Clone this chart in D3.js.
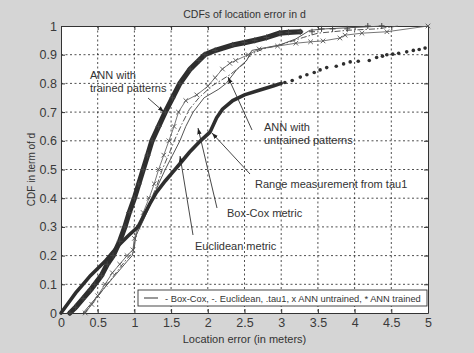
<!DOCTYPE html>
<html><head><meta charset="utf-8">
<script src="https://cdn.jsdelivr.net/npm/d3@7"></script>
<style>
html,body{margin:0;padding:0;background:#d5d5d5;}
svg{display:block;font-family:"Liberation Sans",Arial,sans-serif;}
</style></head>
<body><svg id="c" width="474" height="353"></svg>
<script>
const xTicks = [0,0.5,1,1.5,2,2.5,3,3.5,4,4.5,5];
const yTicks = [0,0.1,0.2,0.3,0.4,0.5,0.6,0.7,0.8,0.9,1];

// Range measurement from tau1 (dense part, drawn as thick dotted band)
const tau1 = [[0,0],[0.1,0.035],[0.2,0.07],[0.3,0.1],[0.4,0.13],[0.5,0.155],[0.6,0.18],[0.7,0.21],[0.8,0.24],[0.92,0.27],[1.05,0.3],[1.15,0.35],[1.21,0.38],[1.3,0.42],[1.42,0.46],[1.52,0.49],[1.62,0.52],[1.75,0.56],[1.9,0.6],[2.03,0.63],[2.12,0.68],[2.2,0.71],[2.34,0.74],[2.5,0.76],[2.71,0.777],[2.9,0.792],[3.0,0.8]];
// tau1 sparse tail dots
const tau1Tail = [[3.05,0.803],[3.15,0.81],[3.26,0.822],[3.35,0.83],[3.45,0.838],[3.53,0.847],[3.62,0.855],[3.75,0.86],[3.85,0.868],[3.94,0.875],[4.05,0.877],[4.2,0.88],[4.3,0.89],[4.38,0.895],[4.44,0.9],[4.52,0.902],[4.6,0.905],[4.71,0.91],[4.8,0.915],[4.88,0.918],[4.96,0.923]];
// ANN trained (dense band)
const annTrained = [[0.12,0],[0.2,0.02],[0.3,0.05],[0.4,0.08],[0.46,0.1],[0.55,0.13],[0.63,0.17],[0.71,0.2],[0.8,0.25],[0.87,0.3],[0.93,0.35],[1.0,0.4],[1.06,0.45],[1.12,0.5],[1.18,0.55],[1.24,0.6],[1.33,0.65],[1.42,0.7],[1.52,0.75],[1.62,0.8],[1.76,0.85],[1.88,0.88],[1.96,0.9],[2.1,0.915],[2.34,0.934],[2.5,0.942],[2.64,0.95],[2.8,0.96],[2.98,0.975],[3.1,0.978],[3.26,0.98]];
const annTrainedTail = [[3.42,0.98],[3.55,0.99],[3.7,0.99],[3.9,0.99],[4.18,1.0],[4.37,1.0]];
// ANN untrained
const annUntrained = [[0.33,0],[0.42,0.03],[0.5,0.06],[0.6,0.1],[0.7,0.14],[0.8,0.17],[0.9,0.2],[0.98,0.22],[1.0,0.26],[1.05,0.3],[1.12,0.35],[1.2,0.4],[1.27,0.45],[1.33,0.5],[1.4,0.55],[1.47,0.6],[1.54,0.65],[1.6,0.7],[1.7,0.74],[1.85,0.76],[2.0,0.79],[2.1,0.82],[2.2,0.85],[2.3,0.87],[2.38,0.88],[2.55,0.9],[2.7,0.92],[2.95,0.93],[3.2,0.94],[3.4,0.945],[3.57,0.948],[3.8,0.958],[3.87,0.968],[4.1,0.975],[4.44,0.98],[5.0,1.0]];
// Box-Cox metric
const boxCox = [[0.3,0],[0.4,0.03],[0.5,0.06],[0.6,0.09],[0.7,0.12],[0.8,0.15],[0.9,0.18],[0.97,0.2],[1.0,0.23],[1.02,0.27],[1.08,0.3],[1.17,0.35],[1.25,0.4],[1.33,0.45],[1.42,0.5],[1.52,0.55],[1.62,0.6],[1.7,0.65],[1.8,0.7],[1.95,0.75],[2.15,0.78],[2.25,0.8],[2.4,0.85],[2.53,0.88],[2.6,0.915],[2.8,0.925],[2.98,0.934],[3.2,0.955],[3.39,0.985],[3.6,0.99],[4.0,0.995],[4.4,1.0]];
// Euclidean metric
const euclid = [[0.32,0],[0.45,0.04],[0.6,0.09],[0.75,0.14],[0.9,0.19],[0.98,0.21],[1.0,0.25],[1.05,0.29],[1.12,0.33],[1.2,0.38],[1.3,0.44],[1.38,0.5],[1.48,0.56],[1.56,0.61],[1.65,0.66],[1.75,0.71],[1.88,0.75],[2.05,0.79],[2.3,0.83],[2.5,0.87],[2.58,0.9],[2.75,0.92],[3.0,0.935],[3.3,0.96],[3.5,0.975],[3.9,0.985],[4.3,0.99],[4.6,1.0]];

const legendText = "- Box-Cox, -. Euclidean, .tau1, x ANN untrained, * ANN trained";
const annotations = [
  {lines:["ANN with","trained patterns"], tx:90, ty:79, from:[148,98], to:[164,112]},
  {lines:["ANN with","untrained patterns"], tx:264, ty:131, from:[252,130], to:[228,77]},
  {lines:["Range measurement from tau1"], tx:255, ty:188, from:[250,174], to:[212,133]},
  {lines:["Box-Cox metric"], tx:227, ty:217, from:[217,208], to:[198,128]},
  {lines:["Euclidean metric"], tx:195, ty:250, from:[193,235], to:[180,156]}
];

const svg = d3.select("#c");
const L=61, R=428, T=26, B=313;
const x = d3.scaleLinear().domain([0,5]).range([L,R]);
const y = d3.scaleLinear().domain([0,1]).range([B,T]);
const ink = "#2e2e2e";

svg.append("rect").attr("x",L).attr("y",T).attr("width",R-L).attr("height",B-T).attr("fill","#fff");

// grid
const g = svg.append("g");
xTicks.slice(1,-1).forEach(t=>g.append("line").attr("x1",x(t)).attr("x2",x(t)).attr("y1",T).attr("y2",B)
  .attr("stroke","#222").attr("stroke-width",0.8).attr("stroke-dasharray","2,2.5"));
yTicks.slice(1,-1).forEach(t=>g.append("line").attr("y1",y(t)).attr("y2",y(t)).attr("x1",L).attr("x2",R)
  .attr("stroke","#222").attr("stroke-width",0.8).attr("stroke-dasharray","2,2.5"));

// axes
const xa = svg.append("g").attr("transform",`translate(0,${B})`).call(d3.axisBottom(x).tickValues(xTicks).tickSizeInner(-4).tickSizeOuter(0).tickPadding(5).tickFormat(d3.format("")));
const ya = svg.append("g").attr("transform",`translate(${L},0)`).call(d3.axisLeft(y).tickValues(yTicks).tickSizeInner(-4).tickSizeOuter(0).tickPadding(4).tickFormat(d3.format("")));
svg.append("g").attr("transform",`translate(0,${T})`).call(d3.axisTop(x).tickValues(xTicks).tickSizeInner(-4).tickSizeOuter(0).tickFormat(""));
svg.append("g").attr("transform",`translate(${R},0)`).call(d3.axisRight(y).tickValues(yTicks).tickSizeInner(-4).tickSizeOuter(0).tickFormat(""));
svg.selectAll(".domain").attr("stroke","#333");
svg.selectAll(".tick line").attr("stroke","#333");
[xa,ya].forEach(a=>a.selectAll("text").attr("font-size",12.5).attr("fill","#3a3a3a").attr("font-family","Liberation Sans, Arial, sans-serif"));

const line = d3.line().x(d=>x(d[0])).y(d=>y(d[1]));
const plot = svg.append("g");

// Euclidean dash-dot
plot.append("path").attr("d",line(euclid)).attr("fill","none").attr("stroke","#555").attr("stroke-width",1).attr("stroke-dasharray","6,2,1.5,2");
// Box-Cox solid
plot.append("path").attr("d",line(boxCox)).attr("fill","none").attr("stroke","#555").attr("stroke-width",1);
// ANN untrained with x markers
plot.append("path").attr("d",line(annUntrained)).attr("fill","none").attr("stroke","#666").attr("stroke-width",0.9);
plot.selectAll(".xm").data(annUntrained).enter().append("path")
  .attr("d",d=>{const cx=x(d[0]),cy=y(d[1]),s=2.3;return `M${cx-s},${cy-s}L${cx+s},${cy+s}M${cx-s},${cy+s}L${cx+s},${cy-s}`;})
  .attr("stroke","#555").attr("stroke-width",0.9);
// tau1 thick dotted band
plot.append("path").attr("d",line(tau1)).attr("fill","none").attr("stroke",ink).attr("stroke-width",3.6).attr("stroke-linecap","round");
plot.selectAll(".td").data(tau1Tail).enter().append("circle")
  .attr("cx",d=>x(d[0])).attr("cy",d=>y(d[1])).attr("r",1.8).attr("fill",ink);
// ANN trained thick band
plot.append("path").attr("d",line(annTrained)).attr("fill","none").attr("stroke",ink).attr("stroke-width",5.2).attr("stroke-linecap","round");
plot.selectAll(".pm").data(annTrained.concat(annTrainedTail)).enter().append("path")
  .attr("d",d=>{const cx=x(d[0]),cy=y(d[1]),s=3;return `M${cx-s},${cy}L${cx+s},${cy}M${cx},${cy-s}L${cx},${cy+s}`;})
  .attr("stroke","#444").attr("stroke-width",1);

// annotations
svg.append("defs").append("marker").attr("id","ah").attr("viewBox","0 0 10 10").attr("refX",10).attr("refY",5)
  .attr("markerWidth",7).attr("markerHeight",7).attr("orient","auto")
  .append("path").attr("d","M0,1.5L10,5L0,8.5Z").attr("fill","#222");
annotations.forEach(a=>{
  svg.append("line").attr("x1",a.from[0]).attr("y1",a.from[1]).attr("x2",a.to[0]).attr("y2",a.to[1])
    .attr("stroke","#333").attr("stroke-width",0.9).attr("marker-end","url(#ah)");
  const t = svg.append("text").attr("x",a.tx).attr("y",a.ty).attr("font-size",11).attr("fill","#333");
  a.lines.forEach((s,i)=>t.append("tspan").attr("x",a.tx).attr("dy",i?13:0).text(s));
});

// legend
svg.append("rect").attr("x",138).attr("y",290).attr("width",289).attr("height",16).attr("fill","#fff").attr("stroke","#333").attr("stroke-width",0.9);
svg.append("line").attr("x1",144).attr("x2",158).attr("y1",298).attr("y2",298).attr("stroke","#777").attr("stroke-width",1.5);
svg.append("text").attr("x",165).attr("y",301.5).attr("font-size",9.3).attr("fill","#333").text(legendText);

// titles
svg.append("text").attr("x",(L+R)/2).attr("y",18).attr("text-anchor","middle").attr("font-size",10.5).attr("fill","#333").text("CDFs of location error in d");
svg.append("text").attr("x",(L+R)/2).attr("y",343).attr("text-anchor","middle").attr("font-size",11).attr("fill","#333").text("Location error (in meters)");
svg.append("text").attr("transform",`translate(35,${(T+B)/2}) rotate(-90)`).attr("text-anchor","middle").attr("font-size",10).attr("fill","#333").text("CDF in term of d");
</script></body></html>
